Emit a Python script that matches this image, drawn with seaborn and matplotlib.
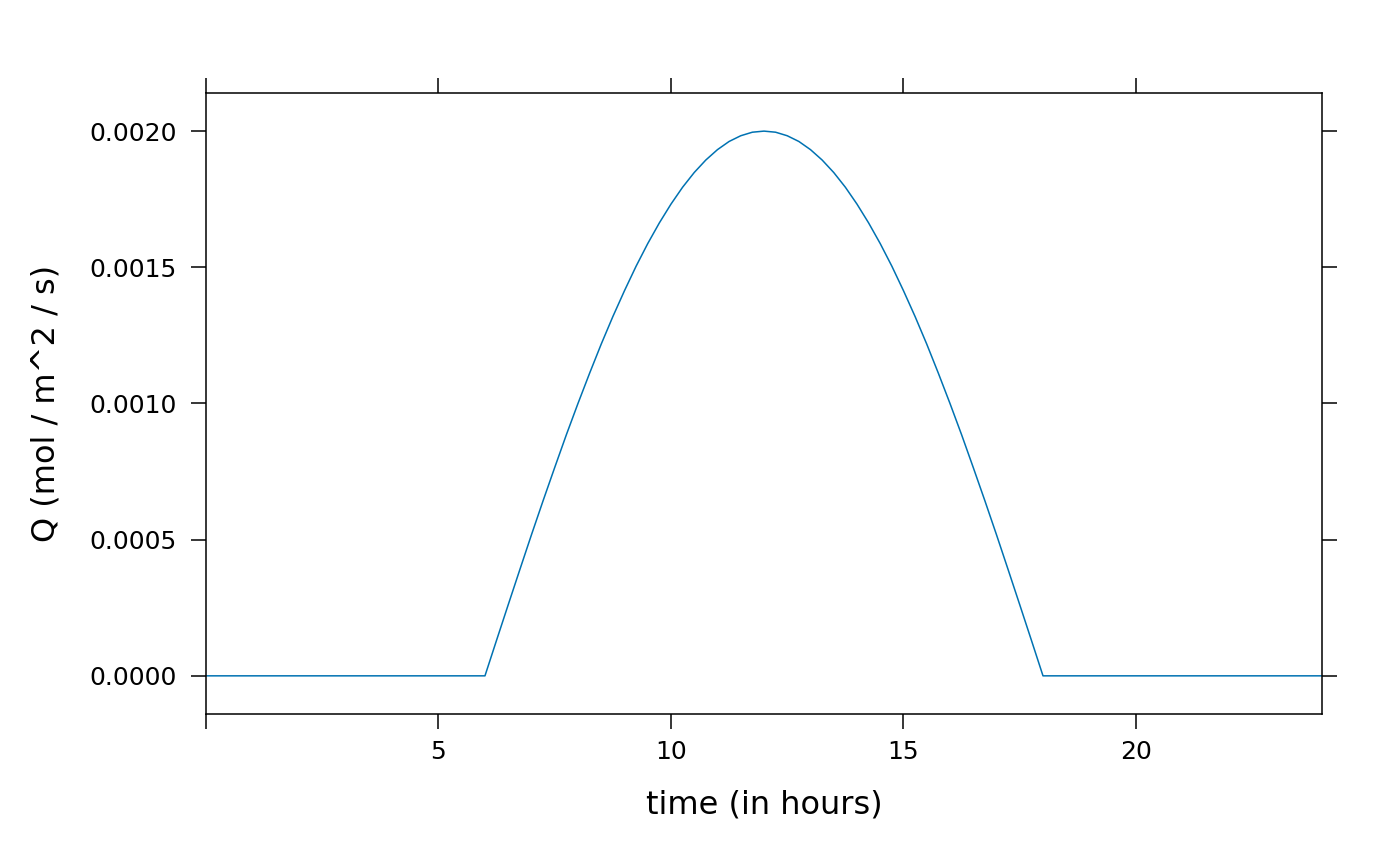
import pandas as pd
import matplotlib
matplotlib.use("Agg")
import matplotlib.pyplot as plt
import seaborn as sns

# flux Q, quarter-hour steps between sunrise and sunset
time_h = [0.0,
          6.0, 6.25, 6.5, 6.75, 7.0, 7.25, 7.5, 7.75, 8.0, 8.25, 8.5, 8.75,
          9.0, 9.25, 9.5, 9.75, 10.0, 10.25, 10.5, 10.75, 11.0, 11.25, 11.5, 11.75,
          12.0, 12.25, 12.5, 12.75, 13.0, 13.25, 13.5, 13.75, 14.0, 14.25, 14.5, 14.75,
          15.0, 15.25, 15.5, 15.75, 16.0, 16.25, 16.5, 16.75, 17.0, 17.25, 17.5, 17.75,
          18.0, 24.0]
q_flux = [0.0,
          0.0, 0.000131, 0.000261, 0.000390, 0.000518, 0.000643, 0.000765, 0.000885,
          0.001000, 0.001111, 0.001218, 0.001319, 0.001414, 0.001504, 0.001587, 0.001663,
          0.001732, 0.001794, 0.001848, 0.001894, 0.001932, 0.001962, 0.001983, 0.001996,
          0.002000,
          0.001996, 0.001983, 0.001962, 0.001932, 0.001894, 0.001848, 0.001794, 0.001732,
          0.001663, 0.001587, 0.001504, 0.001414, 0.001319, 0.001218, 0.001111, 0.001000,
          0.000885, 0.000765, 0.000643, 0.000518, 0.000390, 0.000261, 0.000131, 0.0,
          0.0]

x_ticks = [0, 5, 10, 15, 20]
x_tick_labels = ["", "5", "10", "15", "20"]
y_ticks = [0.0, 0.0005, 0.0010, 0.0015, 0.0020]
y_tick_labels = ["0.0000", "0.0005", "0.0010", "0.0015", "0.0020"]

df = pd.DataFrame({"time": time_h, "Q": q_flux})

sns.set_style("white")
plt.rcParams["font.family"] = ["DejaVu Sans"]
plt.rcParams["text.color"] = "black"
plt.rcParams["axes.labelcolor"] = "black"
plt.rcParams["xtick.color"] = "black"
plt.rcParams["ytick.color"] = "black"

fig = plt.figure(figsize=(14, 8.65), dpi=100)
ax = fig.add_axes([0.1471, 0.1746, 0.7972, 0.7179])

sns.lineplot(data=df, x="time", y="Q", ax=ax, color="#0072B2", linewidth=1.1)

ax.set_xlim(0, 24)
ax.set_ylim(-0.00014, 0.00214)
ax.set_xticks(x_ticks)
ax.set_xticklabels(x_tick_labels)
ax.set_yticks(y_ticks)
ax.set_yticklabels(y_tick_labels)

ax.tick_params(axis="both", direction="out", length=11, width=1.1,
               labelsize=18, top=True, right=True, bottom=True, left=True,
               labeltop=False, labelright=False)
ax.tick_params(axis="y", pad=10)
ax.tick_params(axis="x", pad=8)
for s in ax.spines.values():
    s.set_visible(True)
    s.set_color("black")
    s.set_linewidth(1.1)

ax.set_xlabel("time (in hours)", fontsize=23, labelpad=18)
ax.set_ylabel("Q (mol / m^2 / s)", fontsize=23, labelpad=20)

fig.savefig("out.png", dpi=100)
